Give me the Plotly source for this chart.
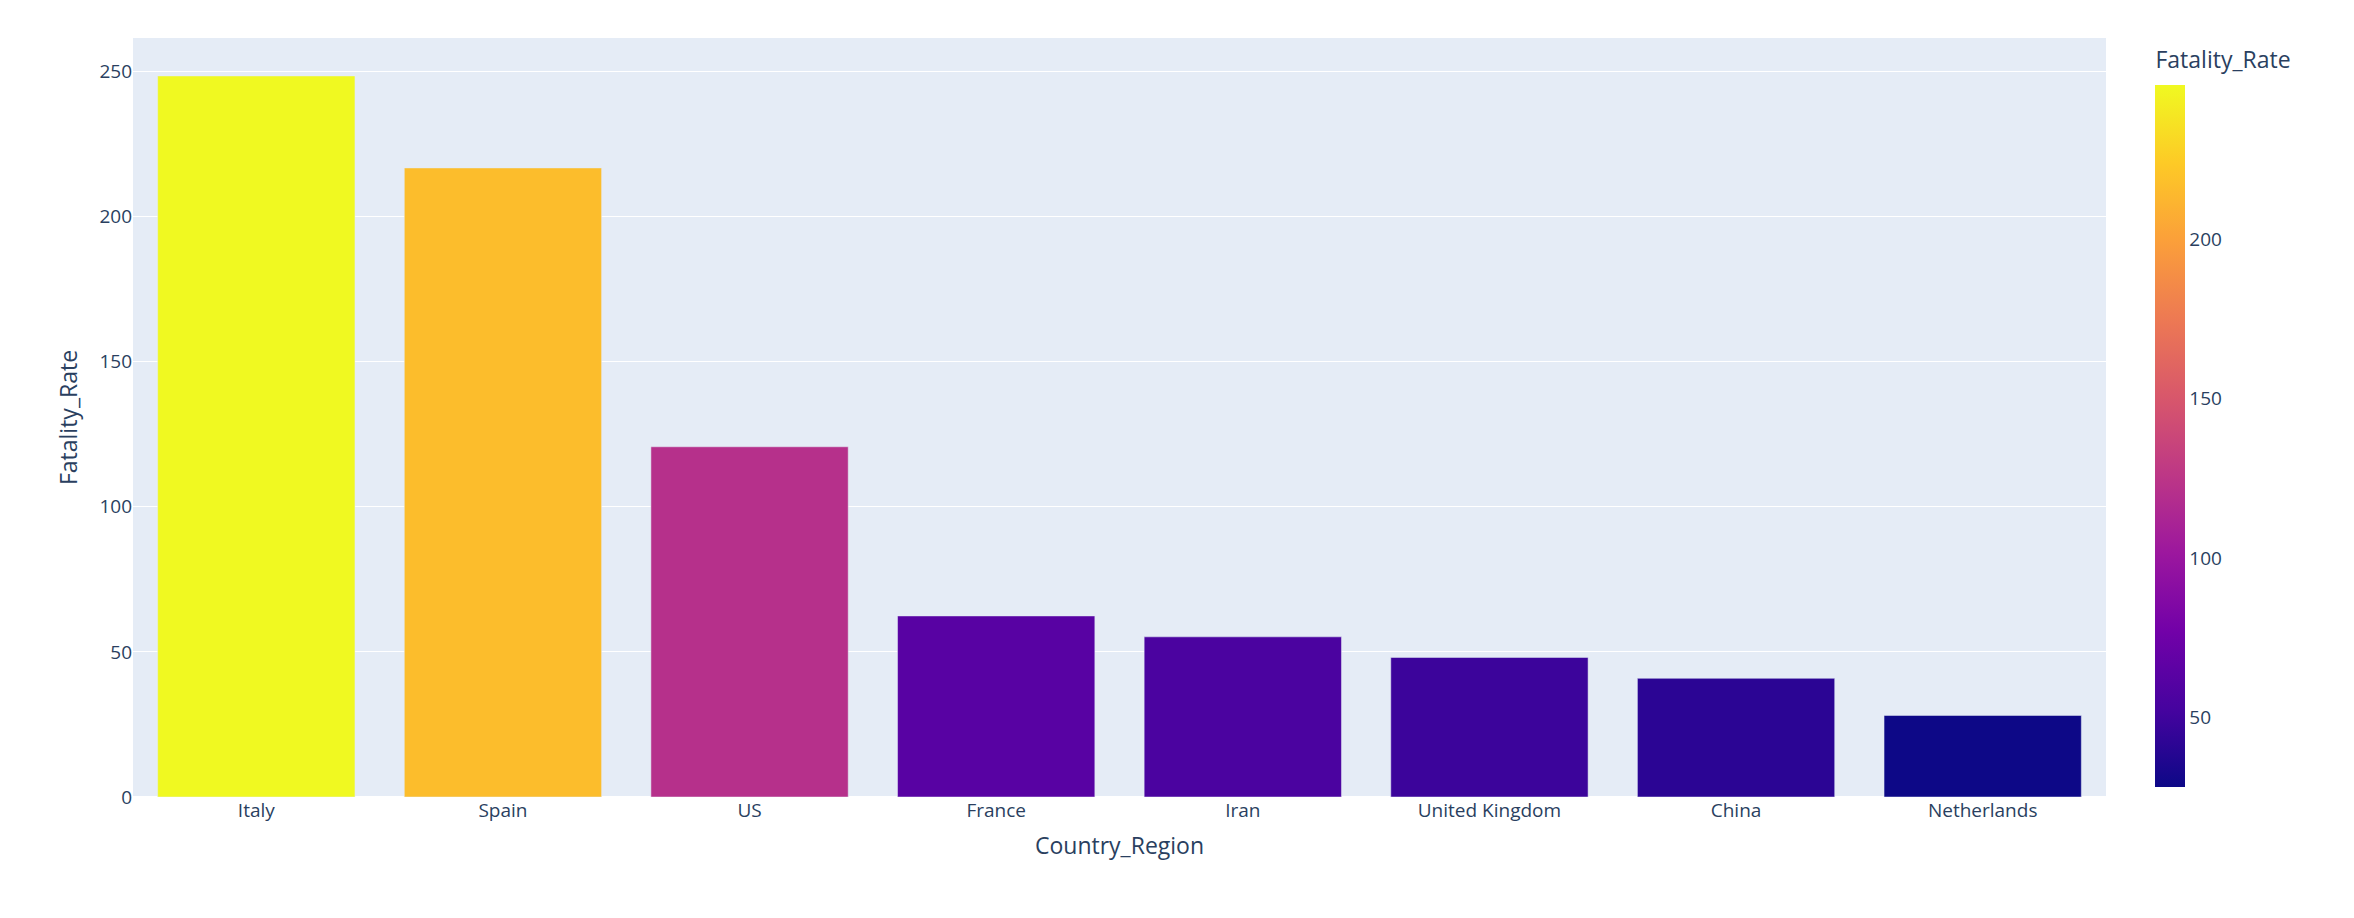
import plotly.express as px
import pandas as pd

countries = ["Italy", "Spain", "US", "France", "Iran", "United Kingdom", "China", "Netherlands"]
fatality_rate = [248.5, 216.8, 120.7, 62.4, 55.2, 48.1, 40.9, 28.1]

df = pd.DataFrame({"Country_Region": countries, "Fatality_Rate": fatality_rate})

fig = px.bar(df, x="Country_Region", y="Fatality_Rate", color="Fatality_Rate",
             color_continuous_scale=px.colors.sequential.Plasma)
fig.update_layout(font=dict(size=19), margin=dict(l=125, r=240, t=30, b=113))
fig.write_html("out.html")
